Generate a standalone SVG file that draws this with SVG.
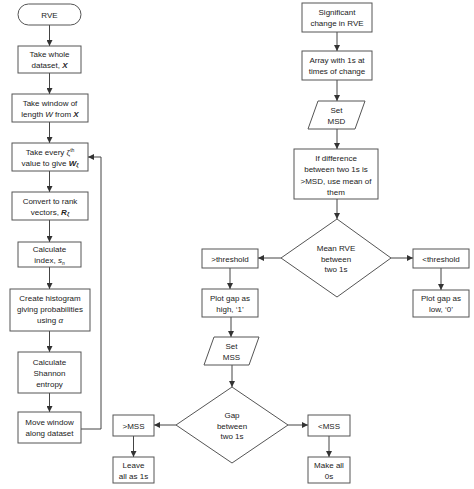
<svg xmlns="http://www.w3.org/2000/svg" width="474" height="489" viewBox="0 0 474 489">
<defs>
<marker id="ah" viewBox="0 0 6 6" refX="6" refY="3" markerWidth="6" markerHeight="6" orient="auto" markerUnits="userSpaceOnUse">
<path d="M0,0 L6,3 L0,6 z" fill="#333"/>
</marker>
<style>
.n{fill:#fff;stroke:#555;stroke-width:1}
.t{font-family:"Liberation Sans",Arial,sans-serif;font-size:8px;fill:#222;text-anchor:middle}
.c{fill:none;stroke:#444;stroke-width:1;marker-end:url(#ah)}
</style>
</defs>
<rect width="474" height="489" fill="#fff"/>
<g id="connectors">
<path class="c" d="M49.5,25 V46"/>
<path class="c" d="M49.5,73 V94"/>
<path class="c" d="M49.5,122 V143"/>
<path class="c" d="M49.5,171 V192"/>
<path class="c" d="M49.5,220 V242"/>
<path class="c" d="M49.5,267 V289"/>
<path class="c" d="M49.5,331 V352"/>
<path class="c" d="M49.5,393 V412"/>
<path class="c" d="M81,429 H101 V157 H88"/>
<path class="c" d="M337,32 V51"/>
<path class="c" d="M337,80 V101"/>
<path class="c" d="M337,129 V149"/>
<path class="c" d="M337,199 V219"/>
<path class="c" d="M281,258 H258"/>
<path class="c" d="M391,258 H413"/>
<path class="c" d="M230,268 V289"/>
<path class="c" d="M441,268 V290"/>
<path class="c" d="M231,317 V337"/>
<path class="c" d="M232,365 V387"/>
<path class="c" d="M176,425 H154"/>
<path class="c" d="M288,425 H308"/>
<path class="c" d="M133.5,436 V457"/>
<path class="c" d="M329,436 V457"/>
</g>
<g id="rve">
<rect class="n" x="18" y="4" width="63" height="21" rx="10.5"/>
<text class="t" x="49.5" y="17.5">RVE</text>
</g>
<g id="whole">
<rect class="n" x="18" y="46" width="63" height="27"/>
<text class="t" x="49.5" y="57">Take whole</text>
<text class="t" x="49.5" y="68">dataset, <tspan font-weight="bold" font-style="italic">X</tspan></text>
</g>
<g id="window">
<rect class="n" x="12" y="94" width="76" height="28"/>
<text class="t" x="50" y="105.5">Take window of</text>
<text class="t" x="50" y="116.5">length <tspan font-style="italic">W</tspan> from <tspan font-weight="bold" font-style="italic">X</tspan></text>
</g>
<g id="every">
<rect class="n" x="12" y="143" width="76" height="28"/>
<text class="t" x="50" y="154.5">Take every ζ<tspan font-size="5" dy="-3">th</tspan></text>
<text class="t" x="50" y="165.5">value to give <tspan font-weight="bold" font-style="italic">W</tspan><tspan font-weight="bold" font-style="italic" font-size="5" dy="1.5">ξ</tspan></text>
</g>
<g id="rank">
<rect class="n" x="12" y="192" width="76" height="28"/>
<text class="t" x="50" y="203.5">Convert to rank</text>
<text class="t" x="50" y="214.5">vectors, <tspan font-weight="bold" font-style="italic">R</tspan><tspan font-weight="bold" font-style="italic" font-size="5" dy="1.5">ξ</tspan></text>
</g>
<g id="index">
<rect class="n" x="18" y="242" width="63" height="25"/>
<text class="t" x="49.5" y="252">Calculate</text>
<text class="t" x="49.5" y="263">index, <tspan font-style="italic">s</tspan><tspan font-style="italic" font-size="5" dy="1.5">n</tspan></text>
</g>
<g id="histogram">
<rect class="n" x="10" y="289" width="80" height="42"/>
<text class="t" x="50" y="301">Create histogram</text>
<text class="t" x="50" y="312">giving probabilities</text>
<text class="t" x="50" y="323">using <tspan font-style="italic">α</tspan></text>
</g>
<g id="shannon">
<rect class="n" x="18" y="352" width="63" height="41"/>
<text class="t" x="49.5" y="364.5">Calculate</text>
<text class="t" x="49.5" y="375.5">Shannon</text>
<text class="t" x="49.5" y="386.5">entropy</text>
</g>
<g id="move">
<rect class="n" x="18" y="412" width="63" height="31"/>
<text class="t" x="49.5" y="425">Move window</text>
<text class="t" x="49.5" y="436">along dataset</text>
</g>
<g id="significant">
<rect class="n" x="302" y="3" width="70" height="29"/>
<text class="t" x="337" y="15">Significant</text>
<text class="t" x="337" y="26">change  in RVE</text>
</g>
<g id="array">
<rect class="n" x="302" y="51" width="70" height="29"/>
<text class="t" x="337" y="63">Array with 1s at</text>
<text class="t" x="337" y="74">times  of change</text>
</g>
<g id="msd">
<polygon class="n" points="318,101 365,101 355,129 308,129"/>
<text class="t" x="336.5" y="112.5">Set</text>
<text class="t" x="336.5" y="123.5">MSD</text>
</g>
<g id="difference">
<rect class="n" x="294" y="149" width="84" height="50"/>
<text class="t" x="336" y="161">If difference</text>
<text class="t" x="336" y="172">between two 1s is</text>
<text class="t" x="336" y="183.5">&gt;MSD, use mean of</text>
<text class="t" x="336" y="195">them</text>
</g>
<g id="mean">
<polygon class="n" points="337,219 391,258 337,297 281,258"/>
<text class="t" x="336" y="251">Mean RVE</text>
<text class="t" x="336" y="262">between</text>
<text class="t" x="336" y="272">two 1s</text>
</g>
<g id="gt-threshold">
<rect class="n" x="202" y="249" width="56" height="19"/>
<text class="t" x="230" y="261.5">&gt;threshold</text>
</g>
<g id="lt-threshold">
<rect class="n" x="413" y="249" width="56" height="19"/>
<text class="t" x="441" y="261.5">&lt;threshold</text>
</g>
<g id="high">
<rect class="n" x="202" y="289" width="56" height="28"/>
<text class="t" x="230" y="300.5">Plot gap as</text>
<text class="t" x="230" y="311.5">high, ‘1’</text>
</g>
<g id="low">
<rect class="n" x="413" y="290" width="56" height="27"/>
<text class="t" x="441" y="301">Plot gap as</text>
<text class="t" x="441" y="312">low, ‘0’</text>
</g>
<g id="mss">
<polygon class="n" points="214,337 259,337 249,365 204,365"/>
<text class="t" x="231.5" y="348.5">Set</text>
<text class="t" x="231.5" y="359.5">MSS</text>
</g>
<g id="gap">
<polygon class="n" points="232,387 288,425 232,463 176,425"/>
<text class="t" x="232" y="418">Gap</text>
<text class="t" x="232" y="429">between</text>
<text class="t" x="232" y="439">two 1s</text>
</g>
<g id="gt-mss">
<rect class="n" x="113" y="415" width="41" height="21"/>
<text class="t" x="133.5" y="428.5">&gt;MSS</text>
</g>
<g id="lt-mss">
<rect class="n" x="308" y="415" width="42" height="21"/>
<text class="t" x="329" y="428.5">&lt;MSS</text>
</g>
<g id="leave">
<rect class="n" x="113" y="457" width="41" height="26"/>
<text class="t" x="133.5" y="467.5">Leave</text>
<text class="t" x="133.5" y="478.5">all as 1s</text>
</g>
<g id="zeros">
<rect class="n" x="308" y="457" width="42" height="26"/>
<text class="t" x="329" y="467.5">Make all</text>
<text class="t" x="329" y="478.5">0s</text>
</g>
</svg>
